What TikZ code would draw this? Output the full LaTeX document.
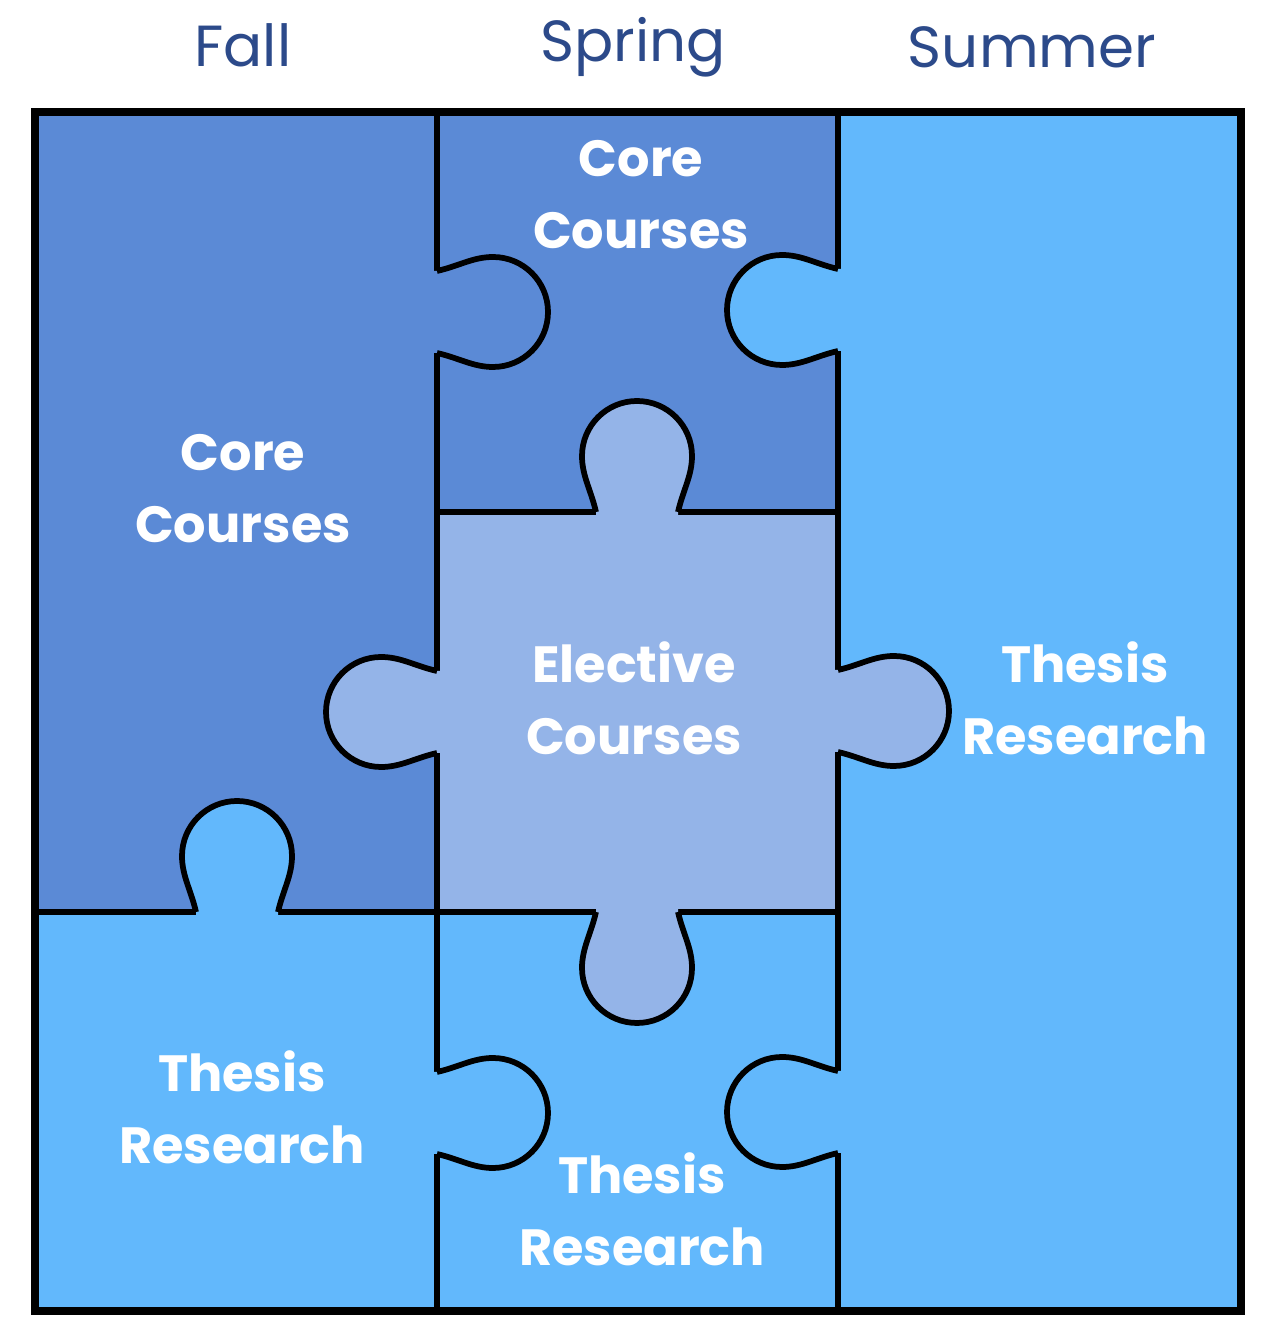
\documentclass[tikz,border=0pt]{standalone}
\usepackage{fontspec}
\setmainfont{Poppins}

\definecolor{coreblue}{RGB}{91,138,214}
\definecolor{electiveblue}{RGB}{148,180,232}
\definecolor{thesisblue}{RGB}{98,184,252}
\definecolor{headnavy}{RGB}{44,74,138}

\tikzset{
  every node/.style={font=\fontsize{29}{41}\selectfont\bfseries, text=white, align=center},
  season/.style={font=\fontsize{33}{40}\selectfont\mdseries, text=headnavy},
  seam/.style={line width=1.15mm, line join=round},
  outline/.style={line width=1.5mm, line join=miter},
}

% one puzzle knob: x, y, rotation, colour of the piece it belongs to
\newcommand{\puzzletab}[4]{%
  \begin{scope}[shift={(#1,#2)},rotate=#3]
    \fill[#4] (-41,-8) -- (-41,0) .. controls (-46,22) and (-55,36) .. (-55,56)
      arc[start angle=180,end angle=0,radius=55]
      .. controls (55,36) and (46,22) .. (41,0) -- (41,-8) -- cycle;
    \draw[seam] (-41,0) .. controls (-46,22) and (-55,36) .. (-55,56)
      arc[start angle=180,end angle=0,radius=55]
      .. controls (55,36) and (46,22) .. (41,0);
  \end{scope}}

\begin{document}
\begin{tikzpicture}[x=0.02cm,y=0.02cm]
  \useasboundingbox (0,0) rectangle (1280,1343);

  % pieces
  \fill[coreblue]     (35,431)  rectangle (437,1231);
  \fill[thesisblue]   (35,32)   rectangle (437,431);
  \fill[coreblue]     (437,831) rectangle (838,1231);
  \fill[electiveblue] (437,431) rectangle (838,831);
  \fill[thesisblue]   (437,32)  rectangle (838,431);
  \fill[thesisblue]   (838,32)  rectangle (1241,1231);

  \draw[seam] (437,32) -- (437,1231);
  \draw[seam] (838,32) -- (838,1231);
  \draw[seam] (437,831) -- (838,831);
  \draw[seam] (35,431) -- (838,431);

  \puzzletab{437}{1031}{-90}{coreblue}
  \puzzletab{838}{1033}{90}{thesisblue}
  \puzzletab{637}{831}{0}{electiveblue}
  \puzzletab{437}{631}{90}{electiveblue}
  \puzzletab{838}{632}{-90}{electiveblue}
  \puzzletab{637}{431}{180}{electiveblue}
  \puzzletab{237}{431}{0}{thesisblue}
  \puzzletab{437}{230}{-90}{thesisblue}
  \puzzletab{838}{231}{90}{thesisblue}

  \draw[outline] (35,32) rectangle (1241,1231);

  % headers
  \node[season] (fall)   at (243,1298)  {Fall};
  \node[season] (spring) at (633,1296)  {Spring};
  \node[season] (summer) at (1032,1296) {Summer};

  \node (corefall)     at (243,854)  {Core\\Courses};
  \node (corespring)   at (641,1148) {Core\\Courses};
  \node (elective)     at (634,645)  {Elective\\Courses};
  \node (thesissummer) at (1085,645) {Thesis\\Research};
  \node (thesisfall)   at (242,236)  {Thesis\\Research};
  \node (thesisspring) at (642,134)  {Thesis\\Research};
\end{tikzpicture}
\end{document}
